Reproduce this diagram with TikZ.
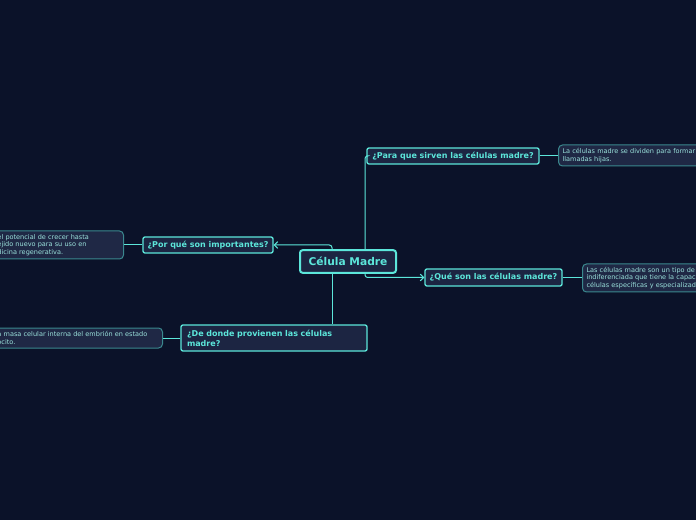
\documentclass[tikz,border=0pt]{standalone}
\usepackage{fontspec}
\setmainfont{DejaVu Sans}
\usetikzlibrary{arrows.meta}
\definecolor{bgnavy}{HTML}{0B1229}
\definecolor{boxfill}{HTML}{1C2542}
\definecolor{cyanline}{HTML}{5CE6DA}
\definecolor{notefill}{HTML}{1F2845}
\definecolor{noteline}{HTML}{3A888E}
\definecolor{notetext}{HTML}{9BE2DC}
\tikzset{
  root/.style={draw=cyanline, line width=1.5pt, fill=boxfill, rounded corners=2pt,
    text=cyanline, font=\fontsize{8}{10}\selectfont\bfseries,
    minimum width=72pt, minimum height=17pt, inner sep=0pt},
  topic/.style={draw=cyanline, line width=1pt, fill=boxfill, rounded corners=1.5pt,
    text=cyanline, font=\fontsize{6}{7.5}\selectfont\bfseries,
    minimum height=12pt, inner sep=0pt},
  note/.style={draw=noteline, line width=0.75pt, fill=notefill, rounded corners=3pt,
    text=notetext, font=\fontsize{4.9}{5.6}\selectfont, align=left,
    inner xsep=3pt, inner ysep=0pt, minimum height=15.75pt},
  link/.style={draw=cyanline, line width=0.75pt, rounded corners=2pt},
  tip/.style={-{Straight Barb[length=2.5pt,width=5pt]}}
}
\begin{document}
\begin{tikzpicture}[x=0.75pt,y=-0.75pt]
  \useasboundingbox (0,0) rectangle (696,520);
  \fill[bgnavy] (0,0) rectangle (696,520);
  \clip (0,0) rectangle (696,520);
  % central topic and branches
  \node[root] (cm) at (348,261.5) {Célula Madre};
  \node[topic, minimum width=129pt] (ps) at (453,156) {¿Para que sirven las células madre?};
  \node[topic, minimum width=97.5pt] (pi) at (208,245) {¿Por qué son importantes?};
  \node[topic, minimum width=102.75pt, minimum height=12.75pt] (qs) at (493.5,277.5) {¿Qué son las células madre?};
  \node[topic, minimum height=19.5pt, text width=130.5pt, inner xsep=4.5pt, align=left,
    font=\fontsize{6}{7.5}\selectfont\bfseries] (dd) at (274,338)
    {¿De donde provienen las células\\madre?};
  % notes
  \node[note, anchor=west, text width=150pt] (n1) at (558,155.5)
    {La células madre se dividen para formar\\llamadas hijas.};
  \node[note, anchor=east, text width=91.5pt, minimum height=21pt] (n2) at (124,245)
    {el potencial de crecer hasta\\ejido nuevo para su uso en\\dicina regenerativa.};
  \node[note, anchor=west, text width=150pt, minimum height=21pt] (n3) at (582,278)
    {Las células madre son un tipo de célula\\indiferenciada que tiene la capacidad\\células específicas y especializadas};
  \node[note, anchor=east, text width=120.75pt, minimum height=15pt] (n4) at (163,338)
    {a masa celular interna del embrión en estado\\ocito.};
  % connectors
  \draw[link] (365,0 |- cm.north) |- (ps.west);
  \draw[link,tip] (365,0 |- cm.south) |- (qs.west);
  \draw[link,tip] (332,0 |- cm.north) |- (pi.east);
  \draw[link] (332,0 |- cm.south) -- (332,0 |- dd.north);
  \draw[link] (ps.east) -- (ps.east -| n1.west);
  \draw[link] (pi.west) -- (pi.west -| n2.east);
  \draw[link] (qs.east) -- (qs.east -| n3.west);
  \draw[link] (dd.west) -- (dd.west -| n4.east);
\end{tikzpicture}
\end{document}
